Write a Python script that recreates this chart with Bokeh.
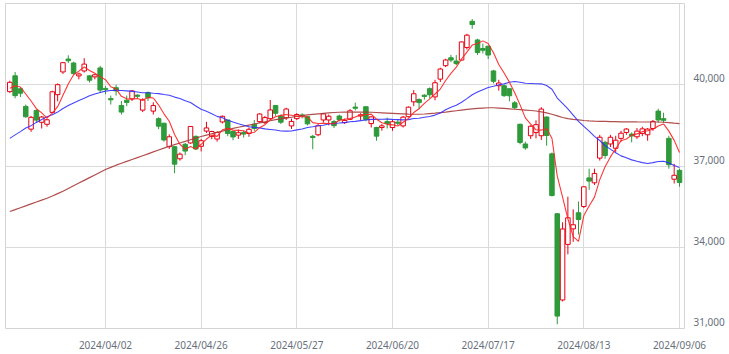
from bokeh.plotting import figure
from bokeh.models import ColumnDataSource, Range1d, LinearAxis, FixedTicker, NumeralTickFormatter
from bokeh.embed import file_html
from bokeh.resources import INLINE

dates = [
    "2024/03/06", "2024/03/07", "2024/03/08", "2024/03/11", "2024/03/12", "2024/03/13", "2024/03/14", "2024/03/15", "2024/03/18", "2024/03/19",
    "2024/03/21", "2024/03/22", "2024/03/25", "2024/03/26", "2024/03/27", "2024/03/28", "2024/03/29", "2024/04/01", "2024/04/02", "2024/04/03",
    "2024/04/04", "2024/04/05", "2024/04/08", "2024/04/09", "2024/04/10", "2024/04/11", "2024/04/12", "2024/04/15", "2024/04/16", "2024/04/17",
    "2024/04/18", "2024/04/19", "2024/04/22", "2024/04/23", "2024/04/24", "2024/04/25", "2024/04/26", "2024/04/30", "2024/05/01", "2024/05/02",
    "2024/05/07", "2024/05/08", "2024/05/09", "2024/05/10", "2024/05/13", "2024/05/14", "2024/05/15", "2024/05/16", "2024/05/17", "2024/05/20",
    "2024/05/21", "2024/05/22", "2024/05/23", "2024/05/24", "2024/05/27", "2024/05/28", "2024/05/29", "2024/05/30", "2024/05/31", "2024/06/03",
    "2024/06/04", "2024/06/05", "2024/06/06", "2024/06/07", "2024/06/10", "2024/06/11", "2024/06/12", "2024/06/13", "2024/06/14", "2024/06/17",
    "2024/06/18", "2024/06/19", "2024/06/20", "2024/06/21", "2024/06/24", "2024/06/25", "2024/06/26", "2024/06/27", "2024/06/28", "2024/07/01",
    "2024/07/02", "2024/07/03", "2024/07/04", "2024/07/05", "2024/07/08", "2024/07/09", "2024/07/10", "2024/07/11", "2024/07/12", "2024/07/16",
    "2024/07/17", "2024/07/18", "2024/07/19", "2024/07/22", "2024/07/23", "2024/07/24", "2024/07/25", "2024/07/26", "2024/07/29", "2024/07/30",
    "2024/07/31", "2024/08/01", "2024/08/02", "2024/08/05", "2024/08/06", "2024/08/07", "2024/08/08", "2024/08/09", "2024/08/13", "2024/08/14",
    "2024/08/15", "2024/08/16", "2024/08/19", "2024/08/20", "2024/08/21", "2024/08/22", "2024/08/23", "2024/08/26", "2024/08/27", "2024/08/28",
    "2024/08/29", "2024/08/30", "2024/09/02", "2024/09/03", "2024/09/04", "2024/09/05", "2024/09/06",
]

opens = [
    39745, 40330, 39850, 39200, 38360, 39050, 38615, 38540, 38980, 39635,
    40474, 40948, 40802, 40328, 40510, 40328, 40292, 40620, 39850, 39480,
    39890, 39234, 39430, 39480, 39610, 39063, 39708, 39027, 38749, 38578,
    37714, 37714, 37266, 37801, 37850, 38093, 37728, 38290, 38093, 37995,
    38626, 38699, 38276, 38140, 38239, 38200, 38542, 38640, 38600, 38749,
    39234, 38845, 38785, 38481, 38749, 38870, 38821, 38093, 38153, 38700,
    38700, 38640, 38845, 38604, 38724, 39174, 38860, 39188, 38566, 38420,
    38420, 38640, 38420, 38600, 38481, 38821, 39370, 39453, 39600, 39854,
    39552, 40208, 40704, 40996, 40875, 40912, 41374, 42343, 41654, 41338,
    41422, 40510, 39964, 39964, 39854, 39333, 38542, 37813, 38117, 38239,
    38117, 38808, 37448, 35237, 32053, 34106, 34678, 35273, 35504, 36561,
    36379, 37291, 37874, 37813, 37654, 38020, 38239, 38177, 38079, 38202,
    38153, 38385, 39027, 38749, 38020, 36512, 36840,
]

highs = [
    40150, 40470, 39900, 39270, 38850, 39100, 38850, 38750, 39780, 40050,
    40823, 41087, 40850, 40450, 40979, 40350, 40400, 40697, 39950, 39600,
    40000, 39400, 39600, 39800, 39650, 39500, 39750, 39350, 38800, 38600,
    38170, 37720, 37500, 37850, 38460, 38130, 38000, 38630, 38300, 38280,
    38863, 38700, 38300, 38350, 38300, 38420, 38700, 38950, 38850, 39437,
    39250, 38900, 39150, 38750, 38950, 38950, 38850, 38150, 38550, 38950,
    38900, 38700, 38900, 38750, 39100, 39336, 38950, 39200, 38850, 38450,
    38550, 38785, 38700, 38700, 38850, 39200, 39800, 39500, 39650, 39900,
    40182, 40630, 40960, 41100, 41094, 41600, 41880, 42426, 41700, 41520,
    41450, 40550, 40182, 40000, 39854, 39400, 38560, 37900, 38500, 38687,
    39172, 38830, 37500, 35250, 34921, 35870, 35400, 35690, 36250, 36900,
    36901, 38150, 37933, 38150, 38115, 38300, 38400, 38239, 38400, 38450,
    38400, 38700, 39114, 38968, 38115, 37080, 36900,
]

lows = [
    39700, 39500, 39550, 38780, 38261, 38600, 38385, 38450, 38950, 39392,
    40400, 40800, 40380, 40200, 40450, 40084, 40200, 39700, 39650, 39270,
    39600, 38900, 39209, 39400, 39500, 38990, 39400, 38900, 38360, 37900,
    37630, 36733, 37200, 37400, 37820, 37590, 37540, 38220, 37990, 37900,
    38570, 38100, 37950, 38000, 38050, 38079, 38300, 38600, 38550, 38700,
    38850, 38550, 38700, 38367, 38700, 38760, 38500, 37617, 38100, 38600,
    38500, 38400, 38650, 38550, 38700, 39050, 38700, 38650, 38420, 37933,
    38300, 38385, 38300, 38500, 38420, 38800, 39209, 39100, 39450, 39500,
    39428, 40100, 40650, 40830, 40729, 40900, 41300, 42067, 41100, 41156,
    40950, 40050, 39781, 39550, 39391, 39100, 37800, 37600, 38000, 38020,
    37958, 37750, 35880, 31156, 32000, 33740, 34200, 34470, 35450, 36120,
    36300, 37200, 37266, 37700, 37510, 37900, 38150, 37874, 38000, 38100,
    37933, 38300, 38600, 38600, 36901, 36354, 36234,
]

closes = [
    40090, 39598, 39688, 38820, 38797, 38695, 38807, 38707, 39740, 40003,
    40815, 40888, 40414, 40398, 40762, 40168, 40369, 39803, 39838, 39451,
    39773, 38992, 39347, 39773, 39581, 39442, 39523, 39232, 38471, 37961,
    38079, 37068, 37438, 37552, 38460, 37628, 37934, 38405, 38274, 38236,
    38835, 38202, 38073, 38229, 38179, 38356, 38385, 38920, 38787, 39069,
    38946, 38617, 39103, 38646, 38900, 38855, 38556, 38054, 38487, 38923,
    38837, 38490, 38703, 38683, 39038, 39134, 38876, 38720, 38814, 38102,
    38482, 38570, 38633, 38596, 38804, 39173, 39667, 39341, 39583, 39631,
    40074, 40580, 40913, 40912, 40780, 41580, 41831, 42224, 41190, 41275,
    41097, 40126, 40063, 39599, 39594, 39154, 37869, 37667, 38468, 38525,
    39101, 38126, 35909, 31458, 34675, 35089, 34831, 35025, 36232, 36442,
    36726, 38062, 37388, 38062, 37951, 38211, 38364, 38110, 38288, 38371,
    38362, 38647, 38700, 38686, 37047, 36657, 36391,
]

ma5 = [
    39875, 39961, 39917, 39659, 39399, 39120, 38961, 38765, 38949, 39190,
    39614, 40031, 40372, 40504, 40655, 40526, 40422, 40300, 40188, 39926,
    39847, 39571, 39480, 39467, 39493, 39427, 39533, 39510, 39250, 38926,
    38653, 38162, 37803, 37620, 37719, 37629, 37802, 37996, 38140, 38095,
    38337, 38390, 38324, 38315, 38304, 38208, 38244, 38414, 38525, 38703,
    38821, 38868, 38904, 38876, 38842, 38824, 38812, 38602, 38570, 38575,
    38571, 38558, 38688, 38727, 38750, 38810, 38887, 38890, 38916, 38729,
    38599, 38538, 38520, 38477, 38617, 38755, 38975, 39116, 39314, 39479,
    39659, 39842, 40156, 40422, 40652, 40953, 41203, 41465, 41521, 41620,
    41523, 41182, 40750, 40432, 40096, 39707, 39256, 38777, 38550, 38337,
    38326, 38377, 38026, 36624, 35854, 35051, 34392, 34216, 35170, 35524,
    35851, 36497, 36970, 37336, 37638, 37935, 37995, 38140, 38185, 38269,
    38299, 38356, 38474, 38553, 38288, 37947, 37496,
]

ma25 = [
    38020, 38150, 38270, 38400, 38490, 38610, 38720, 38820, 38890, 38990,
    39120, 39230, 39330, 39420, 39500, 39590, 39660, 39715, 39765, 39790,
    39795, 39790, 39775, 39755, 39733, 39707, 39704, 39686, 39672, 39638,
    39613, 39544, 39493, 39406, 39344, 39216, 39098, 39018, 38933, 38832,
    38779, 38692, 38623, 38558, 38507, 38451, 38427, 38409, 38370, 38350,
    38330, 38293, 38288, 38295, 38333, 38364, 38423, 38448, 38485, 38504,
    38552, 38575, 38586, 38603, 38635, 38647, 38674, 38700, 38723, 38720,
    38725, 38732, 38721, 38713, 38703, 38712, 38754, 38763, 38801, 38830,
    38879, 38960, 39074, 39171, 39245, 39355, 39489, 39630, 39730, 39819,
    39898, 39948, 40002, 40033, 40093, 40120, 40092, 40053, 40048, 40037,
    40034, 39972, 39835, 39510, 39312, 39112, 38882, 38647, 38460, 38286,
    38092, 37941, 37748, 37623, 37490, 37374, 37304, 37226, 37173, 37124,
    37092, 37124, 37165, 37174, 37115, 37017, 36947,
]

ma75 = [
    35320, 35390, 35460, 35530, 35600, 35670, 35740, 35810, 35890, 35980,
    36070, 36170, 36270, 36370, 36470, 36570, 36670, 36770, 36870, 36950,
    37030, 37100, 37170, 37240, 37310, 37380, 37450, 37520, 37590, 37660,
    37730, 37790, 37850, 37910, 37970, 38030, 38090, 38140, 38190, 38240,
    38290, 38340, 38390, 38430, 38470, 38510, 38550, 38590, 38630, 38670,
    38710, 38740, 38770, 38800, 38830, 38860, 38885, 38905, 38925, 38945,
    38960, 38975, 38985, 38990, 38990, 38990, 38990, 38990, 38985, 38975,
    38965, 38955, 38945, 38935, 38925, 38915, 38910, 38910, 38920, 38935,
    38950, 38970, 38990, 39015, 39040, 39065, 39090, 39110, 39125, 39140,
    39150, 39150, 39140, 39125, 39110, 39095, 39080, 39065, 39050, 39030,
    39000, 38960, 38910, 38850, 38790, 38750, 38720, 38700, 38680, 38665,
    38655, 38650, 38645, 38640, 38635, 38630, 38630, 38628, 38626, 38625,
    38625, 38625, 38625, 38615, 38600, 38580, 38567,
]

tick_positions = [18, 36, 54, 72, 90, 108, 126]
price_ticks = [31000, 34000, 37000, 40000]
grid_prices = [31000, 34000, 37000, 40000, 43000]

UP = "#e60012"
DOWN = "#2e9a3a"
TEXT = "#68707c"
GRID = "#dadada"
FONT = "Noto Sans"

n = len(closes)
idx = list(range(n))


def build(sel):
    d = {"x": [], "top": [], "bottom": [], "high": [], "low": []}
    for i in sel:
        t = max(opens[i], closes[i])
        b = min(opens[i], closes[i])
        if t - b < 45:
            m = (t + b) / 2.0
            t, b = m + 22, m - 22
        d["x"].append(i)
        d["top"].append(t)
        d["bottom"].append(b)
        d["high"].append(highs[i])
        d["low"].append(lows[i])
    return ColumnDataSource(d)


up_src = build([i for i in idx if closes[i] > opens[i]])
dn_src = build([i for i in idx if closes[i] <= opens[i]])

p = figure(width=729, height=354, output_backend="svg", toolbar_location=None,
           x_range=Range1d(-0.81, 126.94), y_range=Range1d(31000, 43000),
           y_axis_location=None,
           min_border_left=5, min_border_right=45, min_border_top=3, min_border_bottom=22)
p.background_fill_color = "white"
p.border_fill_color = "white"
p.outline_line_color = "#d4d4d4"
p.outline_line_width = 1

p.ygrid.ticker = FixedTicker(ticks=grid_prices)
p.ygrid.grid_line_color = GRID
p.xgrid.grid_line_color = GRID

xa = p.xaxis[0]
xa.ticker = FixedTicker(ticks=tick_positions)
xa.major_label_overrides = {i: dates[i] for i in tick_positions}
xa.axis_line_color = None
xa.major_tick_line_color = None
xa.minor_tick_line_color = None
xa.major_label_standoff = 3
xa.major_label_text_font = FONT
xa.major_label_text_font_size = "10px"
xa.major_label_text_color = TEXT

# label axis on the right, offset so labels sit just above their grid lines
p.extra_y_ranges = {"lbl": Range1d(31000 - 237, 43000 - 237)}
ya = LinearAxis(y_range_name="lbl", ticker=FixedTicker(ticks=price_ticks),
                formatter=NumeralTickFormatter(format="0,0"))
ya.axis_line_color = None
ya.major_tick_line_color = None
ya.minor_tick_line_color = None
ya.major_label_standoff = 3
ya.major_label_text_font = FONT
ya.major_label_text_font_size = "10px"
ya.major_label_text_color = TEXT
p.add_layout(ya, "right")

# wicks
p.segment(x0="x", x1="x", y0="low", y1="high", source=dn_src, line_color=DOWN, line_width=1)
p.segment(x0="x", x1="x", y0="low", y1="high", source=up_src, line_color=UP, line_width=1)
# bodies
p.vbar(x="x", width=0.85, top="top", bottom="bottom", source=dn_src,
       fill_color=DOWN, line_color=DOWN, line_width=1)
p.vbar(x="x", width=0.85, top="top", bottom="bottom", source=up_src,
       fill_color="white", line_color=UP, line_width=1)

# moving averages
p.line(idx, ma75, line_color="#a83a3a", line_width=1.2, line_alpha=0.9)
p.line(idx, ma25, line_color="#3030ff", line_width=1.1, line_alpha=0.9)
p.line(idx, ma5, line_color="#ff2020", line_width=1.1, line_alpha=0.9)

open("out.html", "w").write(file_html(p, INLINE))
